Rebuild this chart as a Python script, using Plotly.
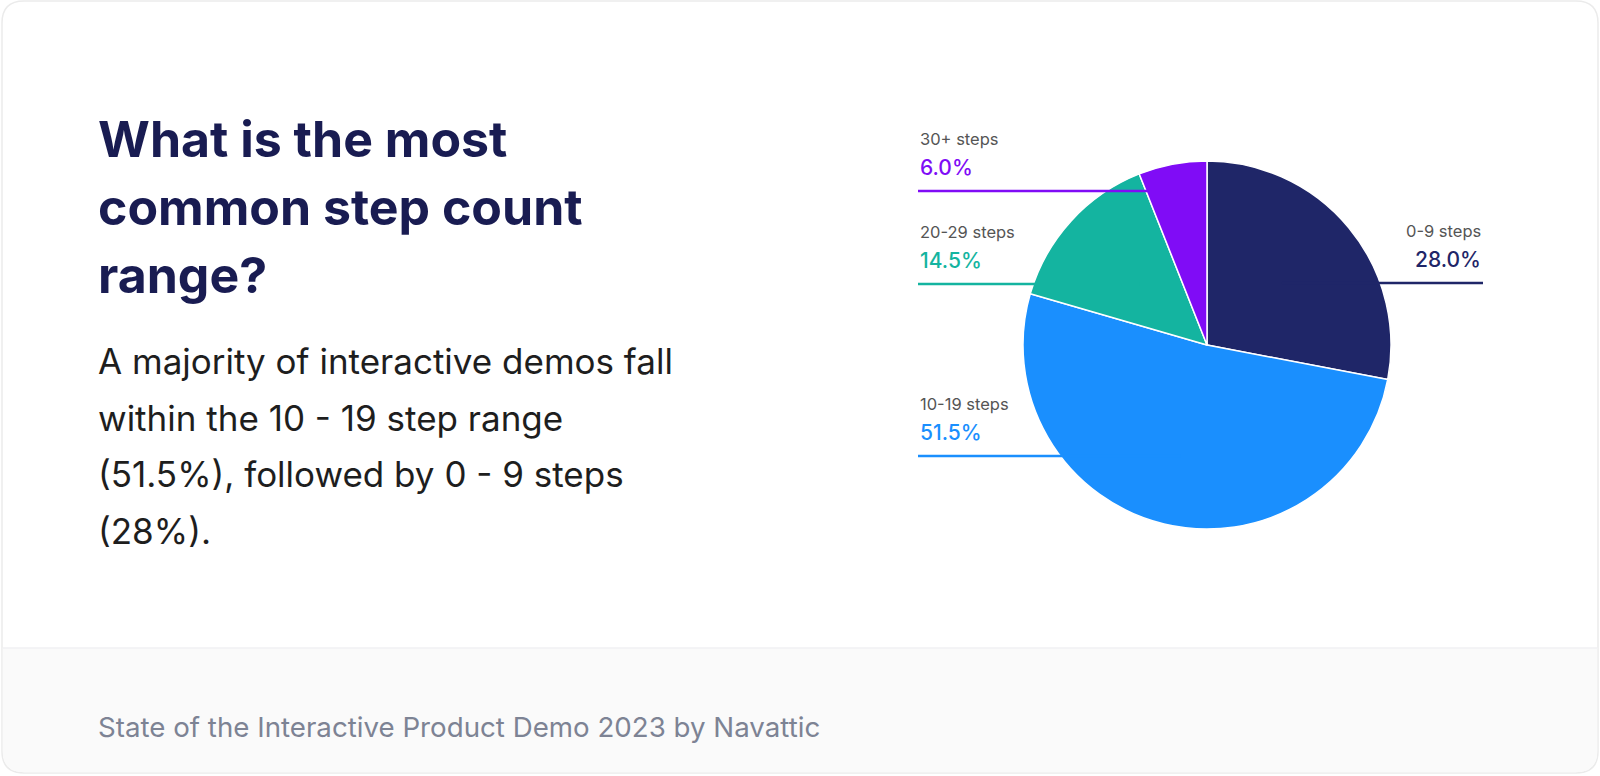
import math
import plotly.graph_objects as go

# Data
steps = ["0-9 steps", "10-19 steps", "20-29 steps", "30+ steps"]
shares = [28.0, 51.5, 14.5, 6.0]
colors = ["#1f2668", "#1a8ffe", "#14b4a0", "#800cf6"]

title_lines = ["What is the most", "common step count", "range?"]
body_lines = [
    "A majority of interactive demos fall",
    "within the 10 - 19 step range",
    "(51.5%), followed by 0 - 9 steps",
    "(28%).",
]
footer_text = "State of the Interactive Product Demo 2023 by Navattic"

# Layout constants (pixels)
W, H = 1600, 776
CX, CY, R = 1207, 345, 184
FONT = "Inter"

# side and y of each leader line
label_pos = {
    "0-9 steps": ("right", 283),
    "10-19 steps": ("left", 456),
    "20-29 steps": ("left", 284),
    "30+ steps": ("left", 191),
}
LEFT_X, RIGHT_X = 918, 1483

fig = go.Figure()

# Hidden pixel axes so shapes/annotations can use pixel coordinates
fig.add_trace(go.Scatter(x=[0, W], y=[0, H], mode="markers",
                         marker=dict(opacity=0), hoverinfo="skip", showlegend=False))

fig.add_trace(
    go.Pie(
        labels=steps,
        values=shares,
        sort=False,
        direction="clockwise",
        rotation=0,
        marker=dict(colors=colors, line=dict(color="white", width=1.5)),
        textinfo="none",
        hoverinfo="label+percent",
        showlegend=False,
        domain=dict(x=[(CX - R) / W, (CX + R) / W], y=[1 - (CY + R) / H, 1 - (CY - R) / H]),
    )
)

shapes = []
annotations = []


def rounded_rect(x0, y0, x1, y1, r, top=True, bottom=True):
    rt = r if top else 0
    rb = r if bottom else 0
    p = f"M {x0 + rt},{y0} L {x1 - rt},{y0} "
    p += f"Q {x1},{y0} {x1},{y0 + rt} " if top else ""
    p += f"L {x1},{y1 - rb} "
    p += f"Q {x1},{y1} {x1 - rb},{y1} " if bottom else ""
    p += f"L {x0 + rb},{y1} "
    p += f"Q {x0},{y1} {x0},{y1 - rb} " if bottom else ""
    p += f"L {x0},{y0 + rt} "
    p += f"Q {x0},{y0} {x0 + rt},{y0} Z" if top else "Z"
    return p


# Card and footer
shapes.append(dict(type="path", xref="x", yref="y", layer="below",
                   path=rounded_rect(2, 1, 1598, 773, 22),
                   fillcolor="white", line=dict(color="#ebebeb", width=1.5)))
shapes.append(dict(type="path", xref="x", yref="y", layer="below",
                   path=rounded_rect(2.8, 648, 1597.2, 772.2, 21, top=False),
                   fillcolor="#fafafa", line=dict(width=0)))
shapes.append(dict(type="line", xref="x", yref="y", layer="below",
                   x0=2.8, x1=1597.2, y0=648, y1=648,
                   line=dict(color="#f1f1f3", width=1.5)))


def text(x, baseline, s, size, color, weight=400, anchor="left"):
    annotations.append(dict(
        x=x, y=baseline - 0.34 * size, xref="x", yref="y",
        text=s, showarrow=False, xanchor=anchor, yanchor="middle",
        font=dict(family=FONT, size=size, color=color, weight=weight),
    ))


# Title and description
for i, line in enumerate(title_lines):
    text(96, 156 + 68 * i, line, 50, "#191c52", weight=700)
for i, line in enumerate(body_lines):
    text(96, 373 + 56.5 * i, line, 35, "#1e1e1e")
text(96, 736, footer_text, 27.7, "#7d8394")

# Leader lines and labels
start = 0.0
for name, val, col in zip(steps, shares, colors):
    side, ly = label_pos[name]
    theta = 2 * math.pi * (start + val / 2) / 100
    rho = (CY - ly) / math.cos(theta)
    x_end = CX + rho * math.sin(theta)
    x_lab = LEFT_X if side == "left" else RIGHT_X
    shapes.append(dict(type="line", xref="x", yref="y", layer="above",
                       x0=x_lab, x1=x_end, y0=ly, y1=ly, line=dict(color=col, width=2.3)))
    anchor = "left" if side == "left" else "right"
    text(x_lab, ly - 46, name, 16.5, "#555555", anchor=anchor)
    text(x_lab, ly - 16, f"{val:.1f}%", 21, col, weight=500, anchor=anchor)
    start += val

fig.update_layout(
    width=W,
    height=H,
    margin=dict(l=0, r=0, t=0, b=0),
    paper_bgcolor="white",
    plot_bgcolor="rgba(0,0,0,0)",
    xaxis=dict(range=[0, W], visible=False, domain=[0, 1], fixedrange=True),
    yaxis=dict(range=[H, 0], visible=False, domain=[0, 1], fixedrange=True),
    shapes=shapes,
    annotations=annotations,
    showlegend=False,
)

fig.write_html(
    "out.html",
    config={"displayModeBar": False},
    post_script="document.body.style.margin='0';document.body.style.overflow='hidden';",
)
